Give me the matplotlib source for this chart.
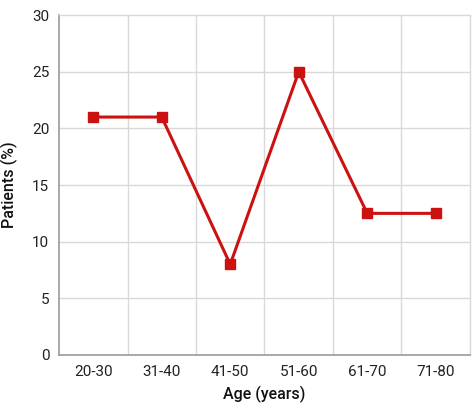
import numpy as np
import matplotlib
matplotlib.use("Agg")
import matplotlib.pyplot as plt

# data
ages = ['20-30', '31-40', '41-50', '51-60', '61-70', '71-80']
patients = [21, 21, 8, 25, 12.5, 12.5]
yticks = [0, 5, 10, 15, 20, 25, 30]

plt.rcParams['font.family'] = ['Roboto', 'DejaVu Sans']

fig = plt.figure(figsize=(4.74, 4.08), dpi=100)
ax = fig.add_axes([0.1245, 0.130, 0.867, 0.833])

x = np.arange(len(ages))
ax.plot(x, patients, '-s', color='#cc1111', lw=2.2, ms=7, zorder=3)

ax.set_xlim(-0.5, len(ages) - 0.5)
ax.set_ylim(0, 30)
ax.set_yticks(yticks)
ax.set_xticks(x)
ax.set_xticklabels(ages)

# grid: horizontal at ticks, vertical at category boundaries
for yv in yticks[1:-1]:
    ax.axhline(yv, color='#d9d9d9', lw=1, zorder=1)
for b in np.arange(0.5, len(ages) - 1, 1.0):
    ax.axvline(b, color='#d9d9d9', lw=1, zorder=1)

for s in ['top', 'right']:
    ax.spines[s].set_color('#d9d9d9')
    ax.spines[s].set_linewidth(1)
for s in ['left', 'bottom']:
    ax.spines[s].set_color('#9a9a9a')
    ax.spines[s].set_linewidth(1.2)

ax.tick_params(length=0, labelsize=11, colors='#222222', pad=7)
ax.set_xlabel('Age (years)', fontsize=11.5, color='#111111', labelpad=5,
              fontweight='medium')
ax.set_ylabel('Patients (%)', fontsize=11.5, color='#111111', labelpad=10,
              fontweight='medium')

fig.savefig('out.png', dpi=100)
